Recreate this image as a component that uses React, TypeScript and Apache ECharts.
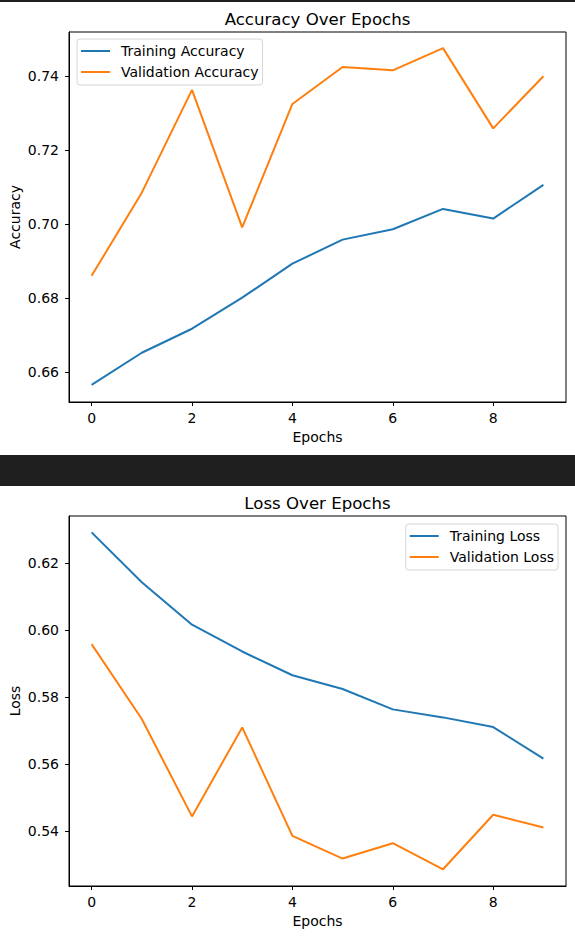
import React, { useEffect, useRef } from 'react';
import * as echarts from 'echarts';

const epochs = [0, 1, 2, 3, 4, 5, 6, 7, 8, 9];
const trainingAccuracy = [0.6565, 0.6652, 0.6717, 0.6801, 0.6893, 0.6958, 0.6986, 0.7041, 0.7015, 0.7106];
const validationAccuracy = [0.686, 0.7085, 0.7363, 0.6991, 0.7325, 0.7425, 0.7416, 0.7476, 0.7259, 0.74];
const trainingLoss = [0.6292, 0.6143, 0.6016, 0.5936, 0.5865, 0.5824, 0.5763, 0.5739, 0.571, 0.5616];
const validationLoss = [0.5958, 0.5734, 0.5443, 0.5709, 0.5385, 0.5317, 0.5363, 0.5285, 0.5448, 0.541];
const xTicks = [0, 2, 4, 6, 8];
const accuracyTicks = [0.66, 0.68, 0.7, 0.72, 0.74];
const lossTicks = [0.54, 0.56, 0.58, 0.6, 0.62];

const FONT = 'DejaVu Sans';
const BLUE = '#1f77b4';
const ORANGE = '#ff7f0e';
const DARK = '#1f1f1f';

function pairs(ys: number[]) {
  return epochs.map((e, i) => [e, ys[i]]);
}

function xAxisCfg(gridIndex: number) {
  return {
    type: 'value',
    gridIndex,
    min: -0.45,
    max: 9.45,
    name: 'Epochs',
    nameLocation: 'middle',
    nameGap: 28,
    nameMoveOverlap: false,
    nameTextStyle: { fontFamily: FONT, fontSize: 14, color: '#000' },
    axisLine: { show: true, onZero: false, lineStyle: { color: '#000', width: 1 } },
    axisTick: { show: true, inside: false, length: 4, lineStyle: { color: '#000', width: 1 }, customValues: xTicks },
    axisLabel: { show: true, margin: 9, fontFamily: FONT, fontSize: 14, color: '#000', customValues: xTicks, formatter: (v: number) => String(v) },
    splitLine: { show: false },
  };
}

function yAxisCfg(gridIndex: number, min: number, max: number, ticks: number[], name: string) {
  return {
    type: 'value',
    gridIndex,
    min,
    max,
    name,
    nameLocation: 'middle',
    nameGap: 47,
    nameMoveOverlap: false,
    nameTextStyle: { fontFamily: FONT, fontSize: 14, color: '#000' },
    axisLine: { show: true, onZero: false, lineStyle: { color: '#000', width: 1 } },
    axisTick: { show: true, inside: false, length: 4, lineStyle: { color: '#000', width: 1 }, customValues: ticks },
    axisLabel: { show: true, margin: 10, fontFamily: FONT, fontSize: 14, color: '#000', customValues: ticks, formatter: (v: number) => v.toFixed(2) },
    splitLine: { show: false },
  };
}

function lineSeries(name: string, ys: number[], color: string, idx: number) {
  return {
    type: 'line',
    name,
    xAxisIndex: idx,
    yAxisIndex: idx,
    data: pairs(ys),
    symbol: 'none',
    showSymbol: false,
    lineStyle: { color, width: 2 },
    itemStyle: { color },
    silent: true,
  };
}

function legendCfg(names: string[], pos: Record<string, number>) {
  return {
    ...pos,
    orient: 'vertical',
    data: names,
    icon: 'rect',
    itemWidth: 29,
    itemHeight: 2,
    itemGap: 5,
    padding: [4, 4, 5, 4],
    borderColor: '#d6d6d6',
    borderWidth: 1,
    borderRadius: 3,
    backgroundColor: 'rgba(255,255,255,0.8)',
    selectedMode: false,
    textStyle: { fontFamily: FONT, fontSize: 14, color: '#000', lineHeight: 16, padding: [0, 0, 0, 6] },
  };
}

export default function App() {
  const ref = useRef<HTMLDivElement>(null);
  useEffect(() => {
    if (!ref.current) return;
    const chart = echarts.init(ref.current, undefined, { renderer: 'svg' });
    chart.setOption({
      animation: false,
      backgroundColor: '#ffffff',
      grid: [
        { left: 69, top: 32, width: 497, height: 370, show: true, borderColor: '#000', borderWidth: 1, containLabel: false, outerBoundsMode: 'none' },
        { left: 69, top: 516, width: 497, height: 370, show: true, borderColor: '#000', borderWidth: 1, containLabel: false, outerBoundsMode: 'none' },
      ],
      xAxis: [xAxisCfg(0), xAxisCfg(1)],
      yAxis: [
        yAxisCfg(0, 0.65188, 0.75196, accuracyTicks, 'Accuracy'),
        yAxisCfg(1, 0.5235, 0.6341, lossTicks, 'Loss'),
      ],
      legend: [
        legendCfg(['Training Accuracy', 'Validation Accuracy'], { left: 77, top: 39 }),
        legendCfg(['Training Loss', 'Validation Loss'], { right: 17, top: 524 }),
      ],
      series: [
        lineSeries('Training Accuracy', trainingAccuracy, BLUE, 0),
        lineSeries('Validation Accuracy', validationAccuracy, ORANGE, 0),
        lineSeries('Training Loss', trainingLoss, BLUE, 1),
        lineSeries('Validation Loss', validationLoss, ORANGE, 1),
      ],
      graphic: [
        { type: 'rect', left: 0, top: 0, shape: { width: 575, height: 2 }, style: { fill: DARK }, silent: true },
        { type: 'rect', left: 0, top: 455, shape: { width: 575, height: 31 }, style: { fill: DARK }, silent: true },
        {
          type: 'text', x: 317.5, y: 19.5,
          style: { text: 'Accuracy Over Epochs', fontFamily: FONT, fontSize: 16.6, fill: '#000', align: 'center', verticalAlign: 'middle' },
          silent: true,
        },
        {
          type: 'text', x: 317.5, y: 503,
          style: { text: 'Loss Over Epochs', fontFamily: FONT, fontSize: 16.6, fill: '#000', align: 'center', verticalAlign: 'middle' },
          silent: true,
        },
      ],
    });
    return () => chart.dispose();
  }, []);
  return <div ref={ref} style={{ position: 'absolute', left: 0, top: 0, width: 575, height: 937 }} />;
}
